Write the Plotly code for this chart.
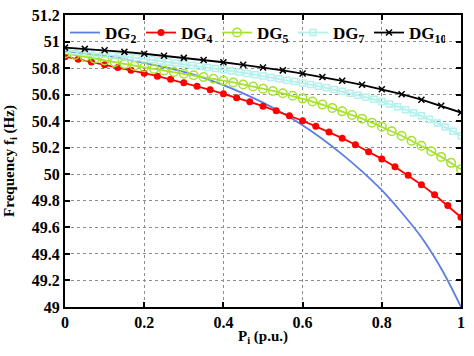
import plotly.graph_objects as go

# DG2 (smooth line, no markers), P step 0.05
p_dg2 = [i * 0.05 for i in range(21)]
f_dg2 = [50.930, 50.912, 50.892, 50.868, 50.840, 50.808, 50.772, 50.727, 50.672, 50.610,
         50.540, 50.460, 50.370, 50.266, 50.150, 50.022, 49.880, 49.712, 49.525, 49.290, 49.000]

# DG4, P step 1/30
p_dg4 = [i / 30 for i in range(31)]
f_dg4 = [50.886, 50.866, 50.846, 50.826, 50.805, 50.784, 50.762, 50.739, 50.715, 50.690,
         50.663, 50.636, 50.607, 50.577, 50.546, 50.513, 50.478, 50.441, 50.403, 50.361,
         50.318, 50.272, 50.222, 50.170, 50.116, 50.056, 49.992, 49.922, 49.846, 49.764, 49.676]

# DG5, P step 0.025
p_dg5 = [i * 0.025 for i in range(41)]
f_dg5 = [50.912, 50.898, 50.884, 50.870, 50.857, 50.844, 50.831, 50.818, 50.806, 50.794,
         50.782, 50.770, 50.758, 50.746, 50.733, 50.720, 50.706, 50.692, 50.677, 50.661,
         50.645, 50.628, 50.610, 50.591, 50.570, 50.548, 50.525, 50.500, 50.474, 50.447,
         50.419, 50.389, 50.358, 50.325, 50.290, 50.253, 50.215, 50.174, 50.131, 50.086, 50.038]

# DG7, P step 0.02
p_dg7 = [i * 0.02 for i in range(51)]
f_dg7 = [50.935, 50.929, 50.923, 50.917, 50.911, 50.905, 50.898, 50.891, 50.884, 50.877,
         50.870, 50.862, 50.854, 50.846, 50.838, 50.830, 50.822, 50.814, 50.805, 50.797,
         50.788, 50.779, 50.769, 50.760, 50.750, 50.740, 50.730, 50.720, 50.709, 50.699,
         50.688, 50.676, 50.664, 50.651, 50.638, 50.625, 50.611, 50.596, 50.581, 50.565,
         50.548, 50.529, 50.509, 50.487, 50.464, 50.440, 50.414, 50.386, 50.356, 50.324, 50.290]

# DG10, P step 0.05
p_dg10 = [i * 0.05 for i in range(21)]
f_dg10 = [50.954, 50.945, 50.935, 50.922, 50.908, 50.893, 50.877, 50.861, 50.844, 50.825,
          50.805, 50.783, 50.759, 50.733, 50.704, 50.674, 50.640, 50.603, 50.562, 50.516, 50.465]

x_ticks = [0, 0.2, 0.4, 0.6, 0.8, 1]
x_tick_labels = ["0", "0.2", "0.4", "0.6", "0.8", "1"]
y_ticks = [49, 49.2, 49.4, 49.6, 49.8, 50, 50.2, 50.4, 50.6, 50.8, 51, 51.2]
y_tick_labels = ["49", "49.2", "49.4", "49.6", "49.8", "50", "50.2", "50.4", "50.6", "50.8", "51", "51.2"]

FONT = "Liberation Serif"

fig = go.Figure()
fig.add_trace(go.Scatter(x=p_dg2, y=f_dg2, mode="lines", name="DG<sub>2</sub>",
                         line=dict(color="#5B7FE3", width=1.8, shape="spline")))
fig.add_trace(go.Scatter(x=p_dg4, y=f_dg4, mode="lines+markers", name="DG<sub>4</sub>",
                         line=dict(color="#FF0000", width=1.8),
                         marker=dict(symbol="circle", size=7, color="#FF0000")))
fig.add_trace(go.Scatter(x=p_dg5, y=f_dg5, mode="lines+markers", name="DG<sub>5</sub>",
                         line=dict(color="#A6E22E", width=1.8),
                         marker=dict(symbol="circle-open", size=8.5, color="#A6E22E",
                                     line=dict(width=1.5))))
fig.add_trace(go.Scatter(x=p_dg7, y=f_dg7, mode="lines+markers", name="DG<sub>7</sub>",
                         line=dict(color="#B4F0EC", width=1.8),
                         marker=dict(symbol="square-open", size=6, color="#B4F0EC",
                                     line=dict(width=1.5))))
fig.add_trace(go.Scatter(x=p_dg10, y=f_dg10, mode="lines+markers", name="DG<sub>10</sub>",
                         line=dict(color="#000000", width=1.8),
                         marker=dict(symbol="x-thin-open", size=6, color="#000000",
                                     line=dict(width=1.5, color="#000000"))))

axis_common = dict(
    showline=True, linecolor="black", linewidth=2, mirror="ticks",
    ticks="inside", ticklen=5, tickwidth=1.5, tickcolor="black",
    showgrid=True, gridcolor="#8c8c8c", griddash="dot", gridwidth=1,
    zeroline=False, automargin=False,
    tickfont=dict(family=FONT, size=16, color="black", weight="bold"),
)

fig.update_layout(
    width=474, height=356,
    margin=dict(l=65, r=13, t=15, b=49),
    paper_bgcolor="white", plot_bgcolor="white",
    font=dict(family=FONT, color="black"),
    showlegend=True,
    legend=dict(orientation="h", x=0.0, y=1.0, xanchor="left", yanchor="top",
                bgcolor="rgba(0,0,0,0)", borderwidth=0,
                font=dict(family=FONT, size=17, color="black", weight="bold"),
                entrywidth=31, itemwidth=30, tracegroupgap=0),
    xaxis=dict(range=[0, 1], tickvals=x_ticks, ticktext=x_tick_labels,
               title=dict(text="P<sub>i</sub> (p.u.)", standoff=0,
                          font=dict(family=FONT, size=15, color="black", weight="bold")),
               **axis_common),
    yaxis=dict(range=[49, 51.2], tickvals=y_ticks, ticktext=y_tick_labels,
               title=dict(text="Frequency f<sub>i</sub> (Hz)", standoff=14,
                          font=dict(family=FONT, size=15, color="black", weight="bold")),
               **axis_common),
)

fig.write_html("out.html",
               config={"displayModeBar": False},
               post_script="document.body.style.margin='0';document.body.style.overflow='hidden';")
